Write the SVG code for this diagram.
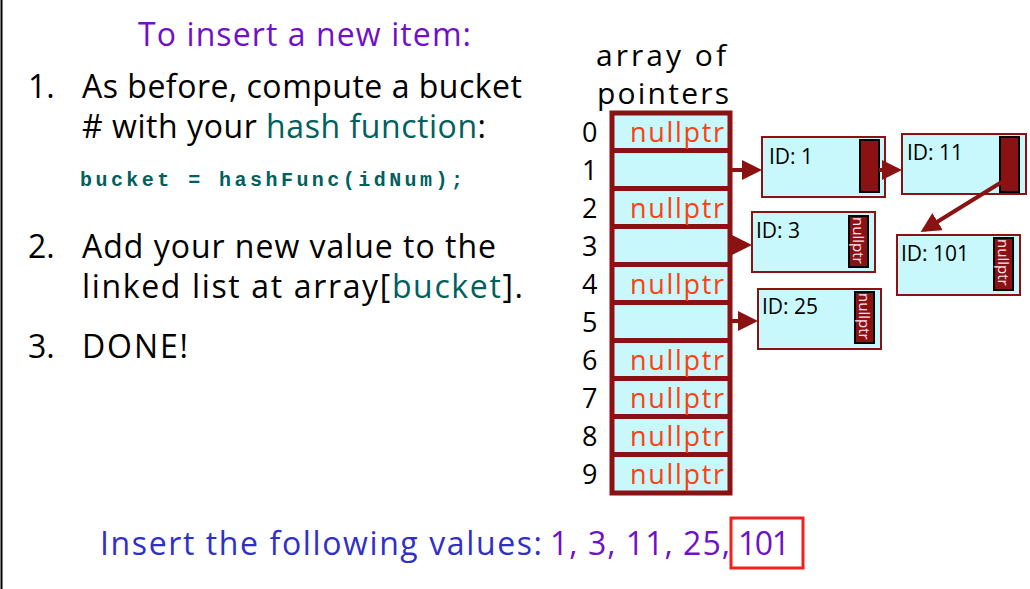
<svg xmlns="http://www.w3.org/2000/svg" width="1030" height="589" viewBox="0 0 1030 589">
<style>
text{font-family:"Open Sans","Liberation Sans",sans-serif}
.b{font-size:32px;fill:#000}
.d{font-size:27px;fill:#000}
.n{font-size:27px;fill:#FF4010}
.node{fill:#C8F8FC;stroke:#8B1212;stroke-width:2}
.bar{fill:#8B1212;stroke:#000;stroke-width:2}
.id{font-size:21px;fill:#000}
.np{font-size:15px;fill:#FFE0F0}
.code{font-family:"Liberation Mono","DejaVu Sans Mono",monospace;font-weight:bold;font-size:20px;fill:#006060}
.c{stroke:#8B1212;stroke-width:4;fill:none;marker-end:url(#ah)}
</style>
<defs><marker id="ah" markerWidth="5" markerHeight="5" refX="4" refY="2.5" orient="auto"><path d="M0,0L5,2.5L0,5z" fill="#8B1212"/></marker></defs>
<rect width="1030" height="589" fill="#fff"/>
<line x1="1.5" y1="0" x2="1.5" y2="589" stroke="#000" stroke-width="2"/>
<text x="138" y="46" font-size="32" fill="#7010C8" textLength="333">To insert a new item:</text>
<text class="b" x="28" y="98">1.</text><text class="b" x="82" y="98" textLength="440">As before, compute a bucket</text>
<text class="b" x="82" y="138" textLength="404"># with your <tspan fill="#006060">hash function</tspan>:</text>
<text class="code" x="80" y="186" textLength="383">bucket = hashFunc(idNum);</text>
<text class="b" x="28" y="258">2.</text><text class="b" x="82" y="258" textLength="414">Add your new value to the</text>
<text class="b" x="82" y="298" textLength="441">linked list at array[<tspan fill="#006060">bucket</tspan>].</text>
<text class="b" x="28" y="358">3.</text><text class="b" x="82" y="358" textLength="106">DONE!</text>
<text x="596" y="66" font-size="30" textLength="130">array of</text>
<text x="597" y="104" font-size="30" textLength="132">pointers</text>
<g id="array">
<rect x="612" y="113" width="118" height="380" fill="#C8F8FC" stroke="#8B1212" stroke-width="5"/>
<path fill="none" stroke="#8B1212" stroke-width="5" d="M612 150.5H730M612 188.5H730M612 226.5H730M612 264.5H730M612 302.5H730M612 340.5H730M612 378.5H730M612 416.5H730M612 454.5H730"/>
<text class="d" x="582" y="142">0</text><text class="d" x="582" y="180">1</text><text class="d" x="582" y="218">2</text><text class="d" x="582" y="256">3</text><text class="d" x="582" y="294">4</text><text class="d" x="582" y="332">5</text><text class="d" x="582" y="370">6</text><text class="d" x="582" y="408">7</text><text class="d" x="582" y="446">8</text><text class="d" x="582" y="484">9</text>
<text class="n" x="630" y="142" textLength="94">nullptr</text><text class="n" x="630" y="218" textLength="94">nullptr</text><text class="n" x="630" y="294" textLength="94">nullptr</text><text class="n" x="630" y="370" textLength="94">nullptr</text><text class="n" x="630" y="408" textLength="94">nullptr</text><text class="n" x="630" y="446" textLength="94">nullptr</text><text class="n" x="630" y="484" textLength="94">nullptr</text>
</g>
<g id="n1"><rect class="node" x="762" y="137" width="123" height="60"/><rect class="bar" x="860" y="140" width="19" height="52"/><text class="id" x="769" y="164">ID: 1</text></g>
<g id="n11"><rect class="node" x="902" y="134" width="124" height="60"/><rect class="bar" x="1000" y="137" width="19" height="55"/><text class="id" x="907" y="160">ID: 11</text></g>
<g id="n3"><rect class="node" x="752" y="212" width="123" height="60"/><rect class="bar" x="849" y="216" width="19" height="51"/><text class="id" x="756" y="238">ID: 3</text><text class="np" transform="translate(853,217) rotate(90)">nullptr</text></g>
<g id="n101"><rect class="node" x="897" y="235" width="123" height="60"/><rect class="bar" x="994" y="238" width="19" height="52"/><text class="id" x="901" y="261">ID: 101</text><text class="np" transform="translate(998,239) rotate(90)">nullptr</text></g>
<g id="n25"><rect class="node" x="758" y="289" width="123" height="60"/><rect class="bar" x="855" y="292" width="19" height="51"/><text class="id" x="762" y="314">ID: 25</text><text class="np" transform="translate(859,293) rotate(90)">nullptr</text></g>
<g id="connectors">
<path class="c" d="M729 170H758"/>
<path class="c" d="M879 170H898"/>
<path class="c" d="M733 245H748"/>
<path class="c" d="M729 321H754"/>
<path class="c" d="M1005 180L924 230"/>
</g>
<text x="100" y="555" font-size="32" fill="#3030C8" textLength="442">Insert the following values:</text>
<text x="550" y="555" font-size="32" fill="#7010C8" textLength="180">1, 3, 11, 25,</text>
<text x="738" y="555" font-size="32" fill="#7010C8" textLength="52">101</text>
<rect x="731" y="518" width="72" height="50" fill="none" stroke="#F02020" stroke-width="3"/>
</svg>
